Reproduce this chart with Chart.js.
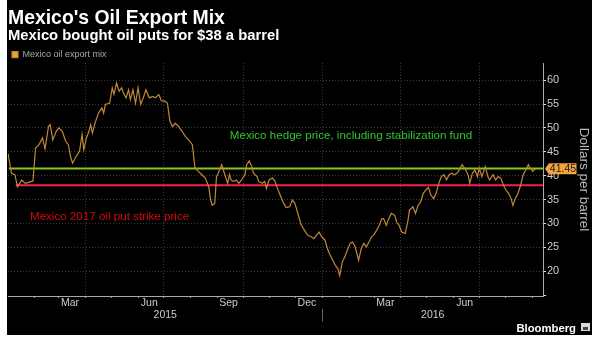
<!DOCTYPE html>
<html>
<head>
<meta charset="utf-8">
<script src="https://cdn.jsdelivr.net/npm/chart.js@4.4.0/dist/chart.umd.min.js"></script>
<style>
  html, body { margin: 0; padding: 0; background: #fff; }
  body { width: 600px; height: 341px; position: relative; overflow: hidden; }
  .panel { position: absolute; left: 7px; top: 0; width: 585px; height: 335px; background: #000; }
  canvas { display: block; }
</style>
</head>
<body>
<div class="panel"><canvas id="chart" width="585" height="335"></canvas></div>
<script>
// days since 2015-01-01 and Mexican export mix price ($/bbl)
const startDate = Date.UTC(2015, 0, 1);
const dayOffsets = [0,4,8,11,16,20,24,29,32,36,40,43,47,49,52,56,59,63,67,70,73,75,79,83,86,88,91,94,96,98,
  101,105,109,111,113,118,121,123,126,129,132,134,137,140,142,145,148,151,154,157,160,164,168,171,175,178,
  182,185,188,191,194,198,202,206,211,214,217,221,225,229,233,235,237,240,242,245,248,250,253,255,257,259,
  262,265,268,271,275,277,280,283,285,289,291,295,298,300,303,307,310,312,316,320,323,327,330,333,336,340,
  344,348,352,355,358,361,364,368,370,373,377,380,383,385,388,391,393,397,400,403,405,407,410,413,416,419,
  422,425,428,431,434,436,439,442,445,449,451,454,457,461,464,466,470,473,476,479,482,485,488,491,494,497,
  500,503,506,509,512,515,518,521,524,527,530,534,536,539,542,545,547,550,554,557,559,563,566,569,572,575,
  578,581,584,586,589,592,595,598,601,604,606,609,612];
const exportMix = [44.7,40.5,40.2,37.7,39.1,38.4,38.6,38.9,45.8,46.5,47.9,45.6,50.3,50.7,47.5,49.3,50.0,49.3,47.2,46.5,
  43.7,42.6,44.0,45.1,48.6,45.4,47.9,49.3,50.7,48.9,
  51.0,53.1,54.2,53.1,54.9,55.2,58.4,57.0,59.4,57.7,58.4,57.3,56.3,58.0,55.9,58.0,55.2,58.4,54.9,56.3,58.0,56.3,
  56.6,56.3,57.0,55.7,55.6,55.2,51.4,50.3,51.0,50.3,49.3,48.2,47.2,46.5,41.6,40.9,40.2,39.5,37.7,35.2,33.8,34.2,
  39.8,40.9,42.3,41.2,39.5,38.4,40.2,39.1,38.8,39.1,38.4,39.1,40.2,42.3,43.1,41.9,40.5,39.8,38.8,38.4,38.8,37.3,
  39.1,39.5,38.8,37.7,35.9,34.2,33.3,33.5,34.9,34.2,32.4,29.8,28.6,27.5,27.2,26.8,27.5,28.2,27.2,26.5,25.1,23.7,
  22.3,21.2,20.5,19.1,21.9,23.0,24.0,25.8,26.1,25.1,23.7,22.3,24.7,25.8,25.1,26.1,27.2,27.7,28.6,29.6,31.0,31.0,
  29.6,31.0,32.1,31.7,30.3,29.6,28.2,27.9,30.3,32.8,33.5,32.1,33.8,34.5,36.3,37.0,37.5,35.9,35.2,36.3,38.4,39.8,
  40.2,39.1,40.2,40.5,40.2,40.5,41.2,42.3,41.6,40.2,38.4,40.5,41.2,39.8,41.6,39.8,41.9,39.8,39.1,40.2,39.1,39.8,
  39.5,38.0,37.0,36.3,35.2,33.8,35.2,36.3,38.0,40.2,41.2,42.3,41.6,40.9,41.45];

const hedgePrice = 41.5;
const strikePrice = 38;
const hedgeDays = [1, 621];
const strikeDays = [9, 621];

const monthTickDates = ['2015-02-01','2015-03-01','2015-04-01','2015-05-01','2015-06-01','2015-07-01',
  '2015-08-01','2015-09-01','2015-10-01','2015-11-01','2015-12-01','2016-01-01','2016-02-01','2016-03-01',
  '2016-04-01','2016-05-01','2016-06-01','2016-07-01','2016-08-01','2016-09-01'];
const quarterLabels = ['Mar', 'Jun', 'Sep', 'Dec', 'Mar', 'Jun'];
const quarterLabelDates = ['2015-03-14','2015-06-14','2015-09-14','2015-12-14','2016-03-14','2016-06-14'];
const yearLabels = ['2015', '2016'];
const yTicks = [15, 20, 25, 30, 35, 40, 45, 50, 55, 60];

const hedgeNote = 'Mexico hedge price, including stabilization fund';
const strikeNote = 'Mexico 2017 oil put strike price';

const xMin = 0, xMax = 621;
const toDay = s => (Date.parse(s) - startDate) / 864e5;
const monthDays = monthTickDates.map(toDay);
const gridDays = monthTickDates.filter(s => ['01', '04', '07', '10'].includes(s.slice(5, 7))).map(toDay);
const labelDays = quarterLabelDates.map(toDay);
const yearSplit = toDay('2016-01-01');
const yearCenters = [(xMin + yearSplit) / 2, (yearSplit + xMax) / 2];

const FONT = '"Liberation Sans", Arial, sans-serif';

const annotations = {
    id: 'annotations',
    afterDatasetsDraw(chart) {
        const { ctx, scales: { x, y } } = chart;
        ctx.save();
        ctx.font = '11.6px ' + FONT;
        ctx.textBaseline = 'middle';
        ctx.textAlign = 'left';
        ctx.fillStyle = '#2fc52f';
        ctx.fillText(hedgeNote, x.getPixelForValue(257.5), y.getPixelForValue(48.4));
        ctx.fillStyle = '#d20a0a';
        ctx.fillText(strikeNote, x.getPixelForValue(25.5), y.getPixelForValue(31.4));
        ctx.restore();
    },
    afterDraw(chart) {
        const { ctx, scales: { y }, chartArea } = chart;
        const last = exportMix[exportMix.length - 1];
        const py = y.getPixelForValue(last);
        const x0 = chartArea.right + 2;
        ctx.save();
        // last value badge
        ctx.beginPath();
        ctx.moveTo(x0, py);
        ctx.lineTo(x0 + 4, py - 5.5);
        ctx.lineTo(x0 + 31.5, py - 5.5);
        ctx.lineTo(x0 + 31.5, py + 5.5);
        ctx.lineTo(x0 + 4, py + 5.5);
        ctx.closePath();
        ctx.fillStyle = '#f2a53c';
        ctx.fill();
        ctx.fillStyle = '#1a1a1a';
        ctx.font = '10.5px ' + FONT;
        ctx.textAlign = 'center';
        ctx.textBaseline = 'middle';
        ctx.fillText(last.toFixed(2), x0 + 18, py + 0.5);
        // source
        ctx.fillStyle = '#fff';
        ctx.font = 'bold 11.3px ' + FONT;
        ctx.textAlign = 'right';
        ctx.textBaseline = 'alphabetic';
        ctx.fillText('Bloomberg', 569, 331.5);
        ctx.fillStyle = '#d8d8d8';
        ctx.fillRect(574, 323, 9, 8);
        ctx.fillStyle = '#444';
        ctx.fillRect(576, 327, 5, 3);
        ctx.restore();
    }
};

const ctx = document.getElementById('chart').getContext('2d');
const chart = new Chart(ctx, {
    type: 'line',
    data: {
        datasets: [{
            label: 'Mexico oil export mix',
            data: dayOffsets.map((d, i) => ({ x: d, y: exportMix[i] })),
            borderColor: '#c0873a',
            backgroundColor: '#f0a030',
            borderWidth: 1.2,
            pointRadius: 0,
            tension: 0
        }, {
            label: 'hedge',
            data: hedgeDays.map(d => ({ x: d, y: hedgePrice })),
            borderColor: '#86c51c',
            borderWidth: 2,
            pointRadius: 0
        }, {
            label: 'strike',
            data: strikeDays.map(d => ({ x: d, y: strikePrice })),
            borderColor: '#f2234c',
            borderWidth: 2,
            pointRadius: 0
        }]
    },
    options: {
        responsive: false,
        animation: false,
        devicePixelRatio: 1,
        events: [],
        layout: { padding: { left: 1, right: 0, top: 0, bottom: 16 } },
        plugins: {
            title: {
                display: true,
                text: "Mexico's Oil Export Mix",
                align: 'start',
                color: '#fff',
                font: { family: FONT, size: 19.4, weight: 'bold', lineHeight: 1 },
                padding: { top: 8.8, bottom: 0 }
            },
            subtitle: {
                display: true,
                text: 'Mexico bought oil puts for $38 a barrel',
                align: 'start',
                color: '#fff',
                font: { family: FONT, size: 14.8, weight: 'bold', lineHeight: 1 },
                padding: { top: 0, bottom: 3.2 }
            },
            legend: {
                display: true,
                align: 'start',
                maxHeight: 16.8,
                labels: {
                    filter: item => item.datasetIndex === 0,
                    boxWidth: 6,
                    boxHeight: 6,
                    padding: 4,
                    color: '#aaa',
                    font: { family: FONT, size: 9 }
                }
            },
            tooltip: { enabled: false }
        },
        scales: {
            x: {
                type: 'linear',
                min: xMin,
                max: xMax,
                weight: 0,
                afterBuildTicks: s => {
                    s.ticks = [...monthDays, ...labelDays].sort((a, b) => a - b).map(v => ({ value: v }));
                },
                grid: {
                    color: c => (c.tick && gridDays.includes(c.tick.value)) ? '#3a3a3a' : 'transparent',
                    tickColor: c => (c.tick && monthDays.includes(c.tick.value)) ? '#999' : 'transparent',
                    tickLength: 2
                },
                border: { color: '#aaa', width: 1, dash: [1, 2] },
                ticks: {
                    autoSkip: false,
                    maxRotation: 0,
                    padding: 0,
                    color: '#ccc',
                    font: { family: FONT, size: 10.5, lineHeight: 1 },
                    callback: v => {
                        const i = labelDays.indexOf(v);
                        return i >= 0 ? quarterLabels[i] : '';
                    }
                }
            },
            xYear: {
                type: 'linear',
                position: 'bottom',
                min: xMin,
                max: xMax,
                weight: 1,
                afterBuildTicks: s => {
                    s.ticks = [yearCenters[0], yearSplit, yearCenters[1]].map(v => ({ value: v }));
                },
                grid: {
                    drawOnChartArea: false,
                    tickLength: 13,
                    tickColor: c => (c.tick && c.tick.value === yearSplit) ? '#666' : 'transparent'
                },
                border: { display: false },
                ticks: {
                    autoSkip: false,
                    maxRotation: 0,
                    padding: -6.5,
                    crossAlign: 'center',
                    color: '#ccc',
                    font: { family: FONT, size: 10.5, lineHeight: 1 },
                    callback: v => {
                        const i = yearCenters.indexOf(v);
                        return i >= 0 ? yearLabels[i] : '';
                    }
                }
            },
            y: {
                position: 'right',
                min: 14.8,
                max: 63.6,
                afterBuildTicks: s => { s.ticks = yTicks.map(v => ({ value: v })); },
                afterFit: s => { s.width = 49; },
                grid: {
                    color: c => (c.tick && c.tick.value === 15) ? 'transparent' : '#3a3a3a',
                    tickColor: '#ddd',
                    tickLength: 3
                },
                border: { color: '#aaa', width: 1, dash: [1, 2] },
                ticks: {
                    padding: 1,
                    color: '#ccc',
                    font: { family: FONT, size: 11 },
                    callback: v => v === 15 ? '' : v
                },
                title: {
                    display: true,
                    text: 'Dollars per barrel',
                    color: '#bbb',
                    font: { family: FONT, size: 13.5 },
                    padding: { top: 0, bottom: 0 }
                }
            }
        }
    },
    plugins: [annotations]
});
</script>
</body>
</html>
